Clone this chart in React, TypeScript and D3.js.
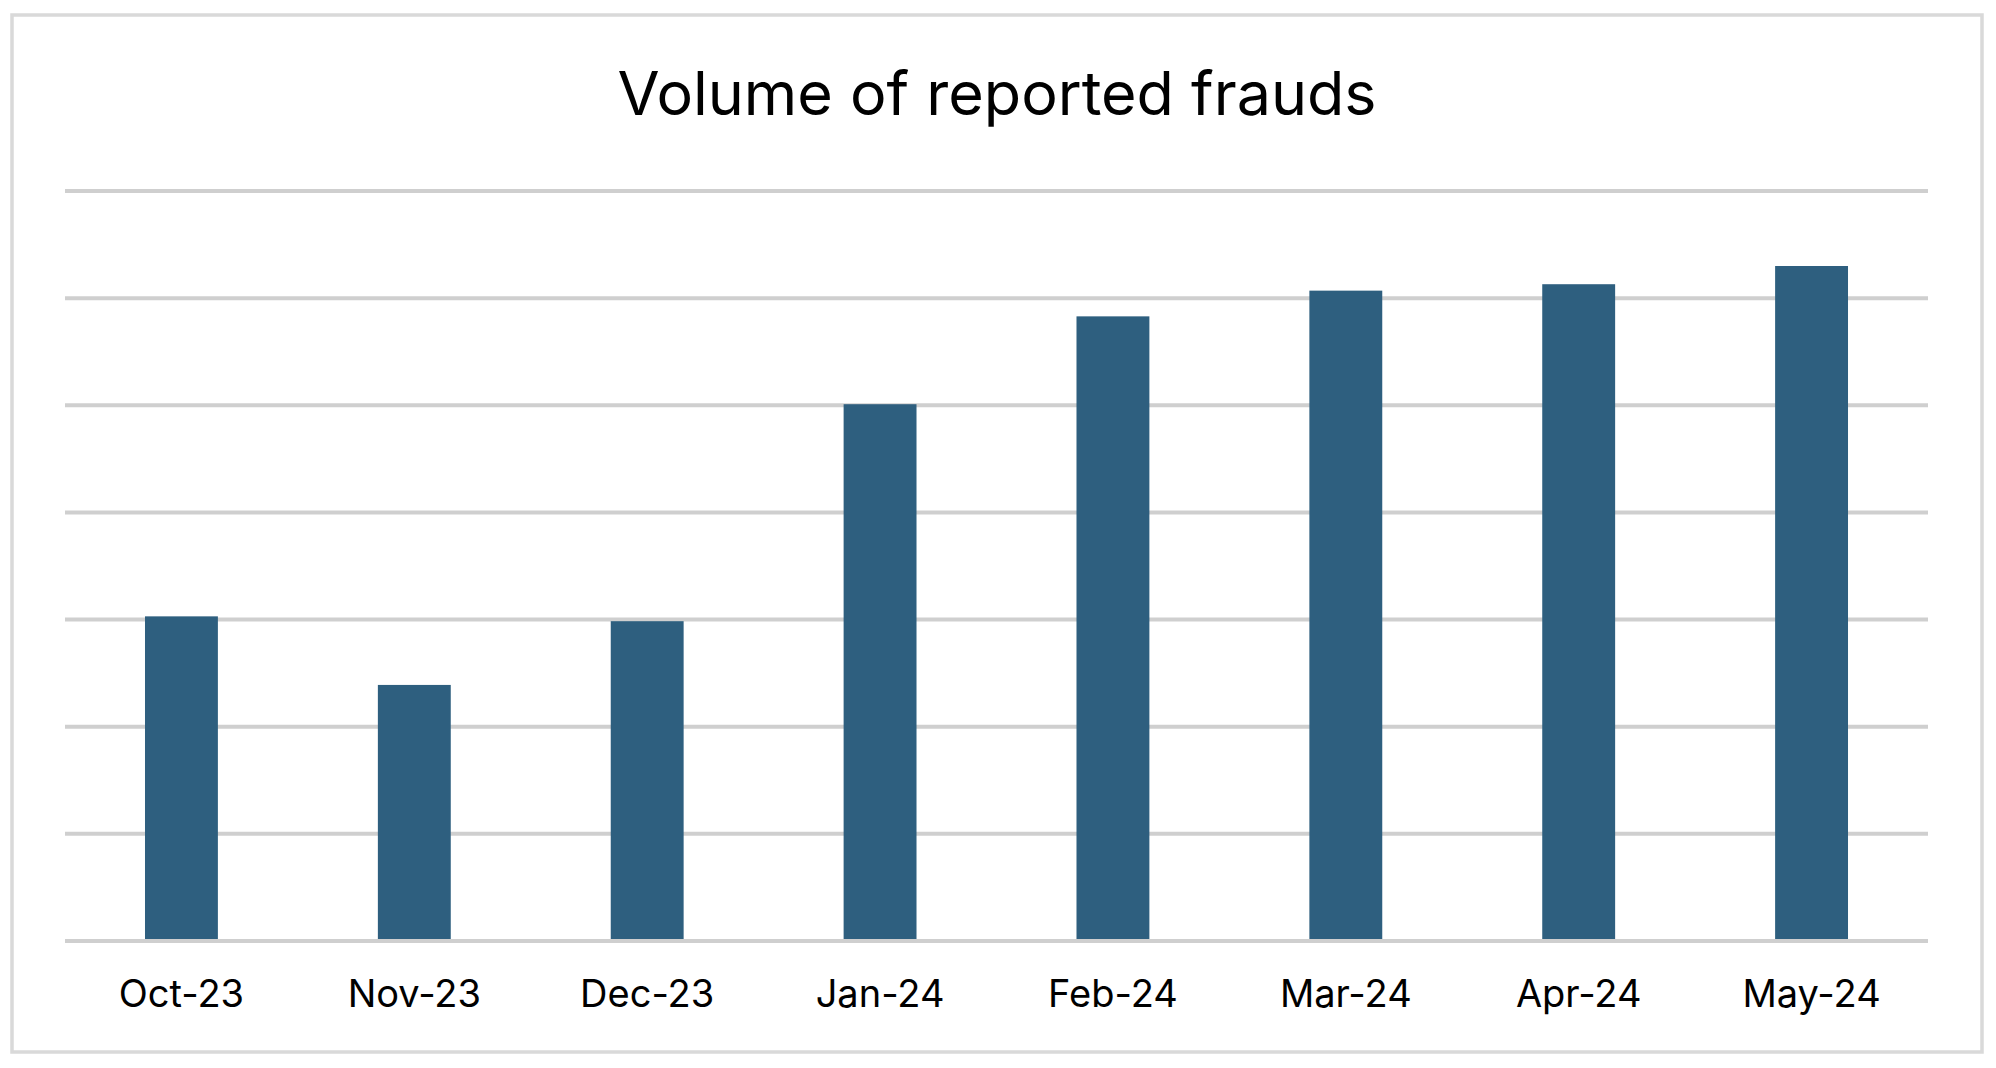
import { useEffect, useRef } from "react";
import * as d3 from "d3";

// Monthly volume of reported frauds (gridline units)
const months = ["Oct-23", "Nov-23", "Dec-23", "Jan-24", "Feb-24", "Mar-24", "Apr-24", "May-24"];
const volumes = [3.03, 2.39, 2.985, 5.01, 5.83, 6.07, 6.13, 6.3];
const gridTicks = [0, 1, 2, 3, 4, 5, 6, 7];

const title = "Volume of reported frauds";

const App = () => {
  const ref = useRef<SVGSVGElement | null>(null);

  useEffect(() => {
    const width = 1996;
    const height = 1068;
    const svg = d3.select(ref.current);
    svg.selectAll("*").remove();

    const fontFamily = "Inter, 'Noto Sans', sans-serif";

    svg.append("rect").attr("width", width).attr("height", height).attr("fill", "#fff");

    // chart border
    svg
      .append("rect")
      .attr("x", 12)
      .attr("y", 15)
      .attr("width", 1970)
      .attr("height", 1037)
      .attr("fill", "none")
      .attr("stroke", "#d9d9d9")
      .attr("stroke-width", 3.5);

    const x = d3.scaleBand<string>().domain(months).range([65, 1928]).paddingInner(0.687).paddingOuter(0.3435);
    const y = d3.scaleLinear().domain([0, 7]).range([941, 191]);

    // gridlines
    svg
      .append("g")
      .selectAll("line")
      .data(gridTicks)
      .join("line")
      .attr("x1", 65)
      .attr("x2", 1928)
      .attr("y1", (d) => y(d))
      .attr("y2", (d) => y(d))
      .attr("stroke", "#cfcfcf")
      .attr("stroke-width", 4);

    // bars
    svg
      .append("g")
      .selectAll("rect")
      .data(volumes)
      .join("rect")
      .attr("x", (_, i) => x(months[i])!)
      .attr("width", x.bandwidth())
      .attr("y", (d) => y(d))
      .attr("height", (d) => y(0) - y(d) - 2)
      .attr("fill", "#2e5f7f");

    // category labels
    svg
      .append("g")
      .selectAll("text")
      .data(months)
      .join("text")
      .attr("x", (d) => x(d)! + x.bandwidth() / 2)
      .attr("y", 1007)
      .attr("text-anchor", "middle")
      .attr("font-family", fontFamily)
      .attr("font-size", 38)
      .attr("fill", "#000")
      .text((d) => d);

    svg
      .append("text")
      .attr("x", 997)
      .attr("y", 115)
      .attr("text-anchor", "middle")
      .attr("font-family", fontFamily)
      .attr("font-size", 61)
      .attr("fill", "#000")
      .text(title);
  }, []);

  return (
    <svg
      ref={ref}
      width={1996}
      height={1068}
      style={{ position: "absolute", left: 0, top: 0, display: "block" }}
    />
  );
};

export default App;
